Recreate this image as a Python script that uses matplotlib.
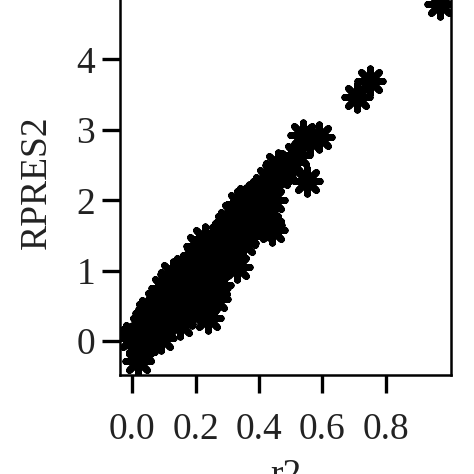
import matplotlib
matplotlib.use("Agg")
import matplotlib.pyplot as plt

r2 = [0.97,0.71,0.75,0.54,0.56,0.59,0.52,0.55,0.48,0.46,0.44,0.33,0.24,0.15,0.02,0.03,
      0.00,0.01,0.03,0.05,0.04,0.06,0.08,0.07,0.09,0.10,0.11,0.12,0.13,0.14,0.15,0.16,
      0.17,0.18,0.19,0.20,0.21,0.22,0.23,0.24,0.25,0.26,0.27,0.28,0.29,0.30,0.31,0.32,
      0.33,0.34,0.35,0.36,0.37,0.38,0.39,0.40,0.41,0.42,0.43,0.44,0.45,0.46,0.47,0.50,
      0.12,0.16,0.20,0.22,0.26,0.28,0.30,0.34,0.36,0.38,0.40,0.05,0.08,0.10,0.18,0.24,
      0.19,0.25,0.31,0.35,0.41,0.43,0.09,0.14,0.06,0.02,0.22,0.26,0.20,0.13]
rpres2 = [4.78,3.47,3.70,2.93,2.85,2.90,2.65,2.27,2.45,2.35,1.58,1.05,0.33,0.25,-0.28,-0.15,
          0.05,0.10,0.20,0.30,0.15,0.45,0.55,0.35,0.60,0.75,0.70,0.85,0.95,0.80,0.70,0.90,
          1.05,0.95,1.10,1.20,1.35,1.25,1.45,1.30,1.20,1.00,0.80,1.40,1.55,1.65,1.70,1.80,
          1.75,1.95,1.85,2.00,2.05,1.90,1.80,2.10,2.15,2.20,2.30,2.00,2.40,2.50,2.40,2.55,
          0.55,0.60,0.70,0.85,0.75,1.50,1.35,1.60,1.50,1.70,1.75,0.40,0.20,0.45,0.50,0.60,
          0.40,0.65,1.25,1.40,1.85,1.65,0.05,0.40,0.00,-0.05,0.55,0.60,0.90,0.45]

fig = plt.figure(figsize=(4.74, 4.74), dpi=100)
ax = fig.add_axes([120/474, 1-375/474, 331/474, 375/474 + 11/474])
ax.scatter(r2, rpres2, marker=(8, 2, 0), s=330, c="black", linewidths=5, zorder=3)
ax.set_xlim(-0.038, 1.005)
ax.set_ylim(-0.48, 5.0)
ax.set_xticks([0.0, 0.2, 0.4, 0.6, 0.8])
ax.set_xticklabels(["0.0", "0.2", "0.4", "0.6", "0.8"])
ax.set_yticks([0, 1, 2, 3, 4])
for s in ax.spines.values():
    s.set_linewidth(1.8)
ax.tick_params(direction="out", length=13, width=2.4, labelsize=27, pad=5)
for lab in ax.get_xticklabels() + ax.get_yticklabels():
    lab.set_family("Liberation Serif")
    lab.set_color("#222222")
ax.tick_params(axis="x", pad=14)
ax.set_ylabel("RPRES2", family="Liberation Serif", fontsize=27, color="#222222", labelpad=16)
ax.set_xlabel("r2", family="Liberation Serif", fontsize=27, color="#222222", labelpad=8)
fig.savefig("out.png", dpi=100)
